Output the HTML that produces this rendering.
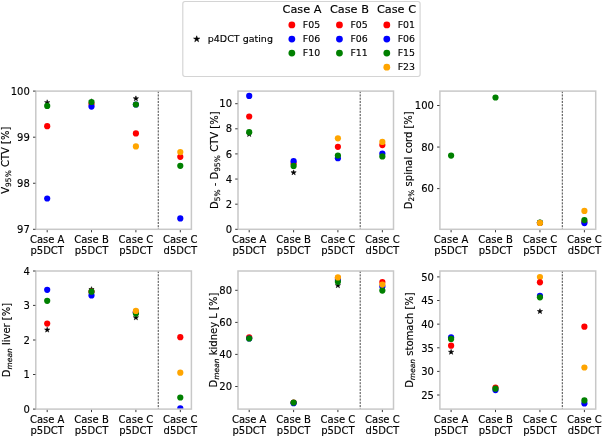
<!DOCTYPE html>
<html><head><meta charset="utf-8"><title>Figure</title>
<style>
html,body{margin:0;padding:0;background:#fff;}
body{width:602px;height:437px;overflow:hidden;}
svg{display:block;font-family:"DejaVu Sans", "Liberation Sans", sans-serif;fill:#000;}
text{stroke:#000;stroke-width:0.14px;}
</style></head><body>
<svg width="602" height="437" viewBox="0 0 602 437">
<defs>
<clipPath id="c0"><rect x="35.80" y="91.10" width="155.60" height="138.20"/></clipPath>
<clipPath id="c1"><rect x="238.00" y="91.10" width="155.50" height="138.20"/></clipPath>
<clipPath id="c2"><rect x="439.90" y="91.10" width="155.80" height="138.20"/></clipPath>
<clipPath id="c3"><rect x="35.80" y="271.00" width="155.60" height="138.10"/></clipPath>
<clipPath id="c4"><rect x="238.00" y="271.00" width="155.50" height="138.10"/></clipPath>
<clipPath id="c5"><rect x="439.90" y="271.00" width="155.80" height="138.10"/></clipPath>
</defs>
<rect width="602" height="437" fill="#fff"/>
<g clip-path="url(#c0)">
<line x1="158.25" y1="91.10" x2="158.25" y2="229.30" stroke="#333" stroke-width="0.9" stroke-dasharray="2.1,1.17"/>
<polygon points="47.20,99.75 47.82,101.65 49.82,101.65 48.20,102.82 48.82,104.72 47.20,103.55 45.58,104.72 46.20,102.82 44.58,101.65 46.58,101.65" fill="#000" stroke="#000" stroke-width="0.55" stroke-linejoin="miter"/>
<circle cx="47.20" cy="126.20" r="3.10" fill="#ff0000"/>
<circle cx="47.20" cy="198.50" r="3.10" fill="#0000ff"/>
<circle cx="47.20" cy="105.90" r="3.10" fill="#008000"/>
<polygon points="91.50,98.75 92.12,100.65 94.12,100.65 92.50,101.82 93.12,103.72 91.50,102.55 89.88,103.72 90.50,101.82 88.88,100.65 90.88,100.65" fill="#000" stroke="#000" stroke-width="0.55" stroke-linejoin="miter"/>
<circle cx="91.50" cy="104.00" r="3.10" fill="#ff0000"/>
<circle cx="91.50" cy="106.60" r="3.10" fill="#0000ff"/>
<circle cx="91.50" cy="102.00" r="3.10" fill="#008000"/>
<polygon points="135.90,95.85 136.52,97.75 138.52,97.75 136.90,98.92 137.52,100.82 135.90,99.65 134.28,100.82 134.90,98.92 133.28,97.75 135.28,97.75" fill="#000" stroke="#000" stroke-width="0.55" stroke-linejoin="miter"/>
<circle cx="135.90" cy="133.40" r="3.10" fill="#ff0000"/>
<circle cx="135.90" cy="104.50" r="3.10" fill="#0000ff"/>
<circle cx="135.90" cy="104.50" r="3.10" fill="#008000"/>
<circle cx="135.90" cy="146.40" r="3.10" fill="#ffa500"/>
<circle cx="180.30" cy="156.80" r="3.10" fill="#ff0000"/>
<circle cx="180.30" cy="218.40" r="3.10" fill="#0000ff"/>
<circle cx="180.30" cy="165.80" r="3.10" fill="#008000"/>
<circle cx="180.30" cy="152.10" r="3.10" fill="#ffa500"/>
</g>
<rect x="35.80" y="91.10" width="155.60" height="138.20" fill="none" stroke="#c8c8c8" stroke-width="1.50"/>
<line x1="35.40" y1="91.10" x2="33.00" y2="91.10" stroke="#222" stroke-width="0.9"/>
<text x="29.80" y="95.00" text-anchor="end" font-size="10.00">100</text>
<line x1="35.40" y1="137.20" x2="33.00" y2="137.20" stroke="#222" stroke-width="0.9"/>
<text x="29.80" y="141.00" text-anchor="end" font-size="10.00">99</text>
<line x1="35.40" y1="183.25" x2="33.00" y2="183.25" stroke="#222" stroke-width="0.9"/>
<text x="29.80" y="187.00" text-anchor="end" font-size="10.00">98</text>
<line x1="35.40" y1="229.30" x2="33.00" y2="229.30" stroke="#222" stroke-width="0.9"/>
<text x="29.80" y="233.00" text-anchor="end" font-size="10.00">97</text>
<line x1="47.20" y1="230.10" x2="47.20" y2="232.30" stroke="#222" stroke-width="0.9"/>
<text x="47.20" y="243.10" text-anchor="middle" font-size="10.00">Case A</text>
<text x="47.20" y="254.00" text-anchor="middle" font-size="10.00">p5DCT</text>
<line x1="91.50" y1="230.10" x2="91.50" y2="232.30" stroke="#222" stroke-width="0.9"/>
<text x="91.50" y="243.10" text-anchor="middle" font-size="10.00">Case B</text>
<text x="91.50" y="254.00" text-anchor="middle" font-size="10.00">p5DCT</text>
<line x1="135.90" y1="230.10" x2="135.90" y2="232.30" stroke="#222" stroke-width="0.9"/>
<text x="135.90" y="243.10" text-anchor="middle" font-size="10.00">Case C</text>
<text x="135.90" y="254.00" text-anchor="middle" font-size="10.00">p5DCT</text>
<line x1="180.30" y1="230.10" x2="180.30" y2="232.30" stroke="#222" stroke-width="0.9"/>
<text x="180.30" y="243.10" text-anchor="middle" font-size="10.00">Case C</text>
<text x="180.30" y="254.00" text-anchor="middle" font-size="10.00">d5DCT</text>
<text transform="translate(9.00,160.20) rotate(-90)" text-anchor="middle" font-size="10.00">V<tspan dy="1.8" font-size="7.5">95%</tspan><tspan dy="-1.8"> CTV [%]</tspan></text>
<g clip-path="url(#c1)">
<line x1="360.20" y1="91.10" x2="360.20" y2="229.30" stroke="#333" stroke-width="0.9" stroke-dasharray="2.1,1.17"/>
<polygon points="249.20,131.55 249.82,133.45 251.82,133.45 250.20,134.62 250.82,136.52 249.20,135.35 247.58,136.52 248.20,134.62 246.58,133.45 248.58,133.45" fill="#000" stroke="#000" stroke-width="0.55" stroke-linejoin="miter"/>
<circle cx="249.20" cy="116.50" r="3.10" fill="#ff0000"/>
<circle cx="249.20" cy="95.90" r="3.10" fill="#0000ff"/>
<circle cx="249.20" cy="132.20" r="3.10" fill="#008000"/>
<polygon points="293.60,169.85 294.22,171.75 296.22,171.75 294.60,172.92 295.22,174.82 293.60,173.65 291.98,174.82 292.60,172.92 290.98,171.75 292.98,171.75" fill="#000" stroke="#000" stroke-width="0.55" stroke-linejoin="miter"/>
<circle cx="293.60" cy="163.50" r="3.10" fill="#ff0000"/>
<circle cx="293.60" cy="161.20" r="3.10" fill="#0000ff"/>
<circle cx="293.60" cy="165.90" r="3.10" fill="#008000"/>
<polygon points="337.90,153.75 338.52,155.65 340.52,155.65 338.90,156.82 339.52,158.72 337.90,157.55 336.28,158.72 336.90,156.82 335.28,155.65 337.28,155.65" fill="#000" stroke="#000" stroke-width="0.55" stroke-linejoin="miter"/>
<circle cx="337.90" cy="146.80" r="3.10" fill="#ff0000"/>
<circle cx="337.90" cy="158.20" r="3.10" fill="#0000ff"/>
<circle cx="337.90" cy="155.50" r="3.10" fill="#008000"/>
<circle cx="337.90" cy="138.30" r="3.10" fill="#ffa500"/>
<circle cx="382.35" cy="145.10" r="3.10" fill="#ff0000"/>
<circle cx="382.35" cy="153.50" r="3.10" fill="#0000ff"/>
<circle cx="382.35" cy="156.40" r="3.10" fill="#008000"/>
<circle cx="382.35" cy="141.90" r="3.10" fill="#ffa500"/>
</g>
<rect x="238.00" y="91.10" width="155.50" height="138.20" fill="none" stroke="#c8c8c8" stroke-width="1.50"/>
<line x1="237.60" y1="103.70" x2="235.20" y2="103.70" stroke="#222" stroke-width="0.9"/>
<text x="232.00" y="107.00" text-anchor="end" font-size="10.00">10</text>
<line x1="237.60" y1="128.80" x2="235.20" y2="128.80" stroke="#222" stroke-width="0.9"/>
<text x="232.00" y="132.00" text-anchor="end" font-size="10.00">8</text>
<line x1="237.60" y1="153.90" x2="235.20" y2="153.90" stroke="#222" stroke-width="0.9"/>
<text x="232.00" y="158.00" text-anchor="end" font-size="10.00">6</text>
<line x1="237.60" y1="179.05" x2="235.20" y2="179.05" stroke="#222" stroke-width="0.9"/>
<text x="232.00" y="183.00" text-anchor="end" font-size="10.00">4</text>
<line x1="237.60" y1="204.20" x2="235.20" y2="204.20" stroke="#222" stroke-width="0.9"/>
<text x="232.00" y="208.00" text-anchor="end" font-size="10.00">2</text>
<line x1="237.60" y1="229.30" x2="235.20" y2="229.30" stroke="#222" stroke-width="0.9"/>
<text x="232.00" y="233.00" text-anchor="end" font-size="10.00">0</text>
<line x1="249.20" y1="230.10" x2="249.20" y2="232.30" stroke="#222" stroke-width="0.9"/>
<text x="249.20" y="243.10" text-anchor="middle" font-size="10.00">Case A</text>
<text x="249.20" y="254.00" text-anchor="middle" font-size="10.00">p5DCT</text>
<line x1="293.60" y1="230.10" x2="293.60" y2="232.30" stroke="#222" stroke-width="0.9"/>
<text x="293.60" y="243.10" text-anchor="middle" font-size="10.00">Case B</text>
<text x="293.60" y="254.00" text-anchor="middle" font-size="10.00">p5DCT</text>
<line x1="337.90" y1="230.10" x2="337.90" y2="232.30" stroke="#222" stroke-width="0.9"/>
<text x="337.90" y="243.10" text-anchor="middle" font-size="10.00">Case C</text>
<text x="337.90" y="254.00" text-anchor="middle" font-size="10.00">p5DCT</text>
<line x1="382.35" y1="230.10" x2="382.35" y2="232.30" stroke="#222" stroke-width="0.9"/>
<text x="382.35" y="243.10" text-anchor="middle" font-size="10.00">Case C</text>
<text x="382.35" y="254.00" text-anchor="middle" font-size="10.00">d5DCT</text>
<text transform="translate(218.00,160.20) rotate(-90)" text-anchor="middle" font-size="10.00">D<tspan dy="1.8" font-size="7.5">5%</tspan><tspan dy="-1.8"> - D</tspan><tspan dy="1.8" font-size="7.5">95%</tspan><tspan dy="-1.8"> CTV [%]</tspan></text>
<g clip-path="url(#c2)">
<line x1="562.30" y1="91.10" x2="562.30" y2="229.30" stroke="#333" stroke-width="0.9" stroke-dasharray="2.1,1.17"/>
<circle cx="451.10" cy="155.60" r="3.10" fill="#008000"/>
<circle cx="495.50" cy="97.50" r="3.10" fill="#008000"/>
<polygon points="539.95,219.85 540.57,221.75 542.57,221.75 540.95,222.92 541.57,224.82 539.95,223.65 538.33,224.82 538.95,222.92 537.33,221.75 539.33,221.75" fill="#000" stroke="#000" stroke-width="0.55" stroke-linejoin="miter"/>
<circle cx="539.95" cy="223.00" r="3.10" fill="#ff0000"/>
<circle cx="539.95" cy="222.80" r="3.10" fill="#0000ff"/>
<circle cx="539.95" cy="222.50" r="3.10" fill="#008000"/>
<circle cx="539.95" cy="222.90" r="3.10" fill="#ffa500"/>
<circle cx="584.40" cy="221.80" r="3.10" fill="#ff0000"/>
<circle cx="584.40" cy="223.10" r="3.10" fill="#0000ff"/>
<circle cx="584.40" cy="220.10" r="3.10" fill="#008000"/>
<circle cx="584.40" cy="210.90" r="3.10" fill="#ffa500"/>
</g>
<rect x="439.90" y="91.10" width="155.80" height="138.20" fill="none" stroke="#c8c8c8" stroke-width="1.50"/>
<line x1="439.50" y1="105.50" x2="437.10" y2="105.50" stroke="#222" stroke-width="0.9"/>
<text x="433.90" y="109.00" text-anchor="end" font-size="10.00">100</text>
<line x1="439.50" y1="147.05" x2="437.10" y2="147.05" stroke="#222" stroke-width="0.9"/>
<text x="433.90" y="151.00" text-anchor="end" font-size="10.00">80</text>
<line x1="439.50" y1="188.60" x2="437.10" y2="188.60" stroke="#222" stroke-width="0.9"/>
<text x="433.90" y="192.00" text-anchor="end" font-size="10.00">60</text>
<line x1="451.10" y1="230.10" x2="451.10" y2="232.30" stroke="#222" stroke-width="0.9"/>
<text x="451.10" y="243.10" text-anchor="middle" font-size="10.00">Case A</text>
<text x="451.10" y="254.00" text-anchor="middle" font-size="10.00">p5DCT</text>
<line x1="495.50" y1="230.10" x2="495.50" y2="232.30" stroke="#222" stroke-width="0.9"/>
<text x="495.50" y="243.10" text-anchor="middle" font-size="10.00">Case B</text>
<text x="495.50" y="254.00" text-anchor="middle" font-size="10.00">p5DCT</text>
<line x1="539.95" y1="230.10" x2="539.95" y2="232.30" stroke="#222" stroke-width="0.9"/>
<text x="539.95" y="243.10" text-anchor="middle" font-size="10.00">Case C</text>
<text x="539.95" y="254.00" text-anchor="middle" font-size="10.00">p5DCT</text>
<line x1="584.40" y1="230.10" x2="584.40" y2="232.30" stroke="#222" stroke-width="0.9"/>
<text x="584.40" y="243.10" text-anchor="middle" font-size="10.00">Case C</text>
<text x="584.40" y="254.00" text-anchor="middle" font-size="10.00">d5DCT</text>
<text transform="translate(412.40,160.20) rotate(-90)" text-anchor="middle" font-size="10.00">D<tspan dy="1.8" font-size="7.5">2%</tspan><tspan dy="-1.8"> spinal cord [%]</tspan></text>
<g clip-path="url(#c3)">
<line x1="158.25" y1="271.00" x2="158.25" y2="409.10" stroke="#333" stroke-width="0.9" stroke-dasharray="2.1,1.17"/>
<polygon points="47.20,327.15 47.82,329.05 49.82,329.05 48.20,330.22 48.82,332.12 47.20,330.95 45.58,332.12 46.20,330.22 44.58,329.05 46.58,329.05" fill="#000" stroke="#000" stroke-width="0.55" stroke-linejoin="miter"/>
<circle cx="47.20" cy="323.60" r="3.10" fill="#ff0000"/>
<circle cx="47.20" cy="289.80" r="3.10" fill="#0000ff"/>
<circle cx="47.20" cy="300.80" r="3.10" fill="#008000"/>
<polygon points="91.50,286.65 92.12,288.55 94.12,288.55 92.50,289.72 93.12,291.62 91.50,290.45 89.88,291.62 90.50,289.72 88.88,288.55 90.88,288.55" fill="#000" stroke="#000" stroke-width="0.55" stroke-linejoin="miter"/>
<circle cx="91.50" cy="291.70" r="3.10" fill="#ff0000"/>
<circle cx="91.50" cy="295.40" r="3.10" fill="#0000ff"/>
<circle cx="91.50" cy="291.70" r="3.10" fill="#008000"/>
<polygon points="135.90,314.85 136.52,316.75 138.52,316.75 136.90,317.92 137.52,319.82 135.90,318.65 134.28,319.82 134.90,317.92 133.28,316.75 135.28,316.75" fill="#000" stroke="#000" stroke-width="0.55" stroke-linejoin="miter"/>
<circle cx="135.90" cy="312.20" r="3.10" fill="#ff0000"/>
<circle cx="135.90" cy="312.20" r="3.10" fill="#0000ff"/>
<circle cx="135.90" cy="313.60" r="3.10" fill="#008000"/>
<circle cx="135.90" cy="310.90" r="3.10" fill="#ffa500"/>
<circle cx="180.30" cy="337.20" r="3.10" fill="#ff0000"/>
<circle cx="180.30" cy="408.30" r="3.10" fill="#0000ff"/>
<circle cx="180.30" cy="397.50" r="3.10" fill="#008000"/>
<circle cx="180.30" cy="372.70" r="3.10" fill="#ffa500"/>
</g>
<rect x="35.80" y="271.00" width="155.60" height="138.10" fill="none" stroke="#c8c8c8" stroke-width="1.50"/>
<line x1="35.40" y1="271.00" x2="33.00" y2="271.00" stroke="#222" stroke-width="0.9"/>
<text x="29.80" y="275.00" text-anchor="end" font-size="10.00">4</text>
<line x1="35.40" y1="305.40" x2="33.00" y2="305.40" stroke="#222" stroke-width="0.9"/>
<text x="29.80" y="309.00" text-anchor="end" font-size="10.00">3</text>
<line x1="35.40" y1="340.00" x2="33.00" y2="340.00" stroke="#222" stroke-width="0.9"/>
<text x="29.80" y="344.00" text-anchor="end" font-size="10.00">2</text>
<line x1="35.40" y1="374.50" x2="33.00" y2="374.50" stroke="#222" stroke-width="0.9"/>
<text x="29.80" y="378.00" text-anchor="end" font-size="10.00">1</text>
<line x1="35.40" y1="409.10" x2="33.00" y2="409.10" stroke="#222" stroke-width="0.9"/>
<text x="29.80" y="413.00" text-anchor="end" font-size="10.00">0</text>
<line x1="47.20" y1="409.90" x2="47.20" y2="412.10" stroke="#222" stroke-width="0.9"/>
<text x="47.20" y="422.90" text-anchor="middle" font-size="10.00">Case A</text>
<text x="47.20" y="433.80" text-anchor="middle" font-size="10.00">p5DCT</text>
<line x1="91.50" y1="409.90" x2="91.50" y2="412.10" stroke="#222" stroke-width="0.9"/>
<text x="91.50" y="422.90" text-anchor="middle" font-size="10.00">Case B</text>
<text x="91.50" y="433.80" text-anchor="middle" font-size="10.00">p5DCT</text>
<line x1="135.90" y1="409.90" x2="135.90" y2="412.10" stroke="#222" stroke-width="0.9"/>
<text x="135.90" y="422.90" text-anchor="middle" font-size="10.00">Case C</text>
<text x="135.90" y="433.80" text-anchor="middle" font-size="10.00">p5DCT</text>
<line x1="180.30" y1="409.90" x2="180.30" y2="412.10" stroke="#222" stroke-width="0.9"/>
<text x="180.30" y="422.90" text-anchor="middle" font-size="10.00">Case C</text>
<text x="180.30" y="433.80" text-anchor="middle" font-size="10.00">d5DCT</text>
<text transform="translate(9.70,340.05) rotate(-90)" text-anchor="middle" font-size="10.00">D<tspan dy="1.8" font-size="7.5" font-style="italic">mean</tspan><tspan dy="-1.8"> liver [%]</tspan></text>
<g clip-path="url(#c4)">
<line x1="360.20" y1="271.00" x2="360.20" y2="409.10" stroke="#333" stroke-width="0.9" stroke-dasharray="2.1,1.17"/>
<circle cx="249.20" cy="337.40" r="3.10" fill="#ff0000"/>
<circle cx="249.20" cy="338.50" r="3.10" fill="#0000ff"/>
<circle cx="249.20" cy="338.50" r="3.10" fill="#008000"/>
<circle cx="293.60" cy="402.60" r="3.10" fill="#ff0000"/>
<circle cx="293.60" cy="403.20" r="3.10" fill="#0000ff"/>
<circle cx="293.60" cy="402.60" r="3.10" fill="#008000"/>
<polygon points="337.90,282.75 338.52,284.65 340.52,284.65 338.90,285.82 339.52,287.72 337.90,286.55 336.28,287.72 336.90,285.82 335.28,284.65 337.28,284.65" fill="#000" stroke="#000" stroke-width="0.55" stroke-linejoin="miter"/>
<circle cx="337.90" cy="278.00" r="3.10" fill="#ff0000"/>
<circle cx="337.90" cy="279.90" r="3.10" fill="#0000ff"/>
<circle cx="337.90" cy="281.80" r="3.10" fill="#008000"/>
<circle cx="337.90" cy="277.40" r="3.10" fill="#ffa500"/>
<circle cx="382.35" cy="282.10" r="3.10" fill="#ff0000"/>
<circle cx="382.35" cy="286.40" r="3.10" fill="#0000ff"/>
<circle cx="382.35" cy="290.55" r="3.10" fill="#008000"/>
<circle cx="382.35" cy="284.60" r="3.10" fill="#ffa500"/>
</g>
<rect x="238.00" y="271.00" width="155.50" height="138.10" fill="none" stroke="#c8c8c8" stroke-width="1.50"/>
<line x1="237.60" y1="290.30" x2="235.20" y2="290.30" stroke="#222" stroke-width="0.9"/>
<text x="232.00" y="294.00" text-anchor="end" font-size="10.00">80</text>
<line x1="237.60" y1="322.40" x2="235.20" y2="322.40" stroke="#222" stroke-width="0.9"/>
<text x="232.00" y="326.00" text-anchor="end" font-size="10.00">60</text>
<line x1="237.60" y1="354.40" x2="235.20" y2="354.40" stroke="#222" stroke-width="0.9"/>
<text x="232.00" y="358.00" text-anchor="end" font-size="10.00">40</text>
<line x1="237.60" y1="386.50" x2="235.20" y2="386.50" stroke="#222" stroke-width="0.9"/>
<text x="232.00" y="390.00" text-anchor="end" font-size="10.00">20</text>
<line x1="249.20" y1="409.90" x2="249.20" y2="412.10" stroke="#222" stroke-width="0.9"/>
<text x="249.20" y="422.90" text-anchor="middle" font-size="10.00">Case A</text>
<text x="249.20" y="433.80" text-anchor="middle" font-size="10.00">p5DCT</text>
<line x1="293.60" y1="409.90" x2="293.60" y2="412.10" stroke="#222" stroke-width="0.9"/>
<text x="293.60" y="422.90" text-anchor="middle" font-size="10.00">Case B</text>
<text x="293.60" y="433.80" text-anchor="middle" font-size="10.00">p5DCT</text>
<line x1="337.90" y1="409.90" x2="337.90" y2="412.10" stroke="#222" stroke-width="0.9"/>
<text x="337.90" y="422.90" text-anchor="middle" font-size="10.00">Case C</text>
<text x="337.90" y="433.80" text-anchor="middle" font-size="10.00">p5DCT</text>
<line x1="382.35" y1="409.90" x2="382.35" y2="412.10" stroke="#222" stroke-width="0.9"/>
<text x="382.35" y="422.90" text-anchor="middle" font-size="10.00">Case C</text>
<text x="382.35" y="433.80" text-anchor="middle" font-size="10.00">d5DCT</text>
<text transform="translate(217.20,340.05) rotate(-90)" text-anchor="middle" font-size="10.00">D<tspan dy="1.8" font-size="7.5" font-style="italic">mean</tspan><tspan dy="-1.8"> kidney L [%]</tspan></text>
<g clip-path="url(#c5)">
<line x1="562.30" y1="271.00" x2="562.30" y2="409.10" stroke="#333" stroke-width="0.9" stroke-dasharray="2.1,1.17"/>
<polygon points="451.10,349.35 451.72,351.25 453.72,351.25 452.10,352.42 452.72,354.32 451.10,353.15 449.48,354.32 450.10,352.42 448.48,351.25 450.48,351.25" fill="#000" stroke="#000" stroke-width="0.55" stroke-linejoin="miter"/>
<circle cx="451.10" cy="345.70" r="3.10" fill="#ff0000"/>
<circle cx="451.10" cy="337.30" r="3.10" fill="#0000ff"/>
<circle cx="451.10" cy="338.90" r="3.10" fill="#008000"/>
<circle cx="495.50" cy="387.50" r="3.10" fill="#ff0000"/>
<circle cx="495.50" cy="390.10" r="3.10" fill="#0000ff"/>
<circle cx="495.50" cy="388.70" r="3.10" fill="#008000"/>
<polygon points="539.95,308.65 540.57,310.55 542.57,310.55 540.95,311.72 541.57,313.62 539.95,312.45 538.33,313.62 538.95,311.72 537.33,310.55 539.33,310.55" fill="#000" stroke="#000" stroke-width="0.55" stroke-linejoin="miter"/>
<circle cx="539.95" cy="277.00" r="3.10" fill="#ffa500"/>
<circle cx="539.95" cy="282.30" r="3.10" fill="#ff0000"/>
<circle cx="539.95" cy="295.90" r="3.10" fill="#0000ff"/>
<circle cx="539.95" cy="297.30" r="3.10" fill="#008000"/>
<circle cx="584.40" cy="326.70" r="3.10" fill="#ff0000"/>
<circle cx="584.40" cy="403.40" r="3.10" fill="#0000ff"/>
<circle cx="584.40" cy="400.40" r="3.10" fill="#008000"/>
<circle cx="584.40" cy="367.50" r="3.10" fill="#ffa500"/>
</g>
<rect x="439.90" y="271.00" width="155.80" height="138.10" fill="none" stroke="#c8c8c8" stroke-width="1.50"/>
<line x1="439.50" y1="276.90" x2="437.10" y2="276.90" stroke="#222" stroke-width="0.9"/>
<text x="433.90" y="281.00" text-anchor="end" font-size="10.00">50</text>
<line x1="439.50" y1="300.50" x2="437.10" y2="300.50" stroke="#222" stroke-width="0.9"/>
<text x="433.90" y="304.00" text-anchor="end" font-size="10.00">45</text>
<line x1="439.50" y1="324.15" x2="437.10" y2="324.15" stroke="#222" stroke-width="0.9"/>
<text x="433.90" y="328.00" text-anchor="end" font-size="10.00">40</text>
<line x1="439.50" y1="347.80" x2="437.10" y2="347.80" stroke="#222" stroke-width="0.9"/>
<text x="433.90" y="352.00" text-anchor="end" font-size="10.00">35</text>
<line x1="439.50" y1="371.40" x2="437.10" y2="371.40" stroke="#222" stroke-width="0.9"/>
<text x="433.90" y="375.00" text-anchor="end" font-size="10.00">30</text>
<line x1="439.50" y1="395.00" x2="437.10" y2="395.00" stroke="#222" stroke-width="0.9"/>
<text x="433.90" y="399.00" text-anchor="end" font-size="10.00">25</text>
<line x1="451.10" y1="409.90" x2="451.10" y2="412.10" stroke="#222" stroke-width="0.9"/>
<text x="451.10" y="422.90" text-anchor="middle" font-size="10.00">Case A</text>
<text x="451.10" y="433.80" text-anchor="middle" font-size="10.00">p5DCT</text>
<line x1="495.50" y1="409.90" x2="495.50" y2="412.10" stroke="#222" stroke-width="0.9"/>
<text x="495.50" y="422.90" text-anchor="middle" font-size="10.00">Case B</text>
<text x="495.50" y="433.80" text-anchor="middle" font-size="10.00">p5DCT</text>
<line x1="539.95" y1="409.90" x2="539.95" y2="412.10" stroke="#222" stroke-width="0.9"/>
<text x="539.95" y="422.90" text-anchor="middle" font-size="10.00">Case C</text>
<text x="539.95" y="433.80" text-anchor="middle" font-size="10.00">p5DCT</text>
<line x1="584.40" y1="409.90" x2="584.40" y2="412.10" stroke="#222" stroke-width="0.9"/>
<text x="584.40" y="422.90" text-anchor="middle" font-size="10.00">Case C</text>
<text x="584.40" y="433.80" text-anchor="middle" font-size="10.00">d5DCT</text>
<text transform="translate(413.30,340.05) rotate(-90)" text-anchor="middle" font-size="10.00">D<tspan dy="1.8" font-size="7.5" font-style="italic">mean</tspan><tspan dy="-1.8"> stomach [%]</tspan></text>
<rect x="182.8" y="1.5" width="237.3" height="75.0" rx="2.2" ry="2.2" fill="#fff" stroke="#d4d4d4" stroke-width="1.15"/>
<polygon points="196.70,35.80 197.44,38.08 199.84,38.08 197.90,39.49 198.64,41.77 196.70,40.36 194.76,41.77 195.50,39.49 193.56,38.08 195.96,38.08" fill="#000" stroke="#000" stroke-width="0.55" stroke-linejoin="miter"/>
<text x="207.8" y="42.1" font-size="9.5">p4DCT gating</text>
<text x="302.00" y="13" text-anchor="middle" font-size="11.30">Case A</text>
<circle cx="291.85" cy="24.95" r="3.40" fill="#ff0000"/>
<text x="302.80" y="28.00" font-size="9.40">F05</text>
<circle cx="291.85" cy="39.05" r="3.40" fill="#0000ff"/>
<text x="302.80" y="42.00" font-size="9.40">F06</text>
<circle cx="291.85" cy="53.10" r="3.40" fill="#008000"/>
<text x="302.80" y="56.00" font-size="9.40">F10</text>
<text x="349.40" y="13" text-anchor="middle" font-size="11.30">Case B</text>
<circle cx="339.45" cy="24.95" r="3.40" fill="#ff0000"/>
<text x="350.40" y="28.00" font-size="9.40">F05</text>
<circle cx="339.45" cy="39.05" r="3.40" fill="#0000ff"/>
<text x="350.40" y="42.00" font-size="9.40">F06</text>
<circle cx="339.45" cy="53.10" r="3.40" fill="#008000"/>
<text x="350.40" y="56.00" font-size="9.40">F11</text>
<text x="396.50" y="13" text-anchor="middle" font-size="11.30">Case C</text>
<circle cx="386.80" cy="24.95" r="3.40" fill="#ff0000"/>
<text x="397.65" y="28.00" font-size="9.40">F01</text>
<circle cx="386.80" cy="39.05" r="3.40" fill="#0000ff"/>
<text x="397.65" y="42.00" font-size="9.40">F06</text>
<circle cx="386.80" cy="53.10" r="3.40" fill="#008000"/>
<text x="397.65" y="56.00" font-size="9.40">F15</text>
<circle cx="386.80" cy="67.15" r="3.40" fill="#ffa500"/>
<text x="397.65" y="70.00" font-size="9.40">F23</text>
</svg>
</body></html>
